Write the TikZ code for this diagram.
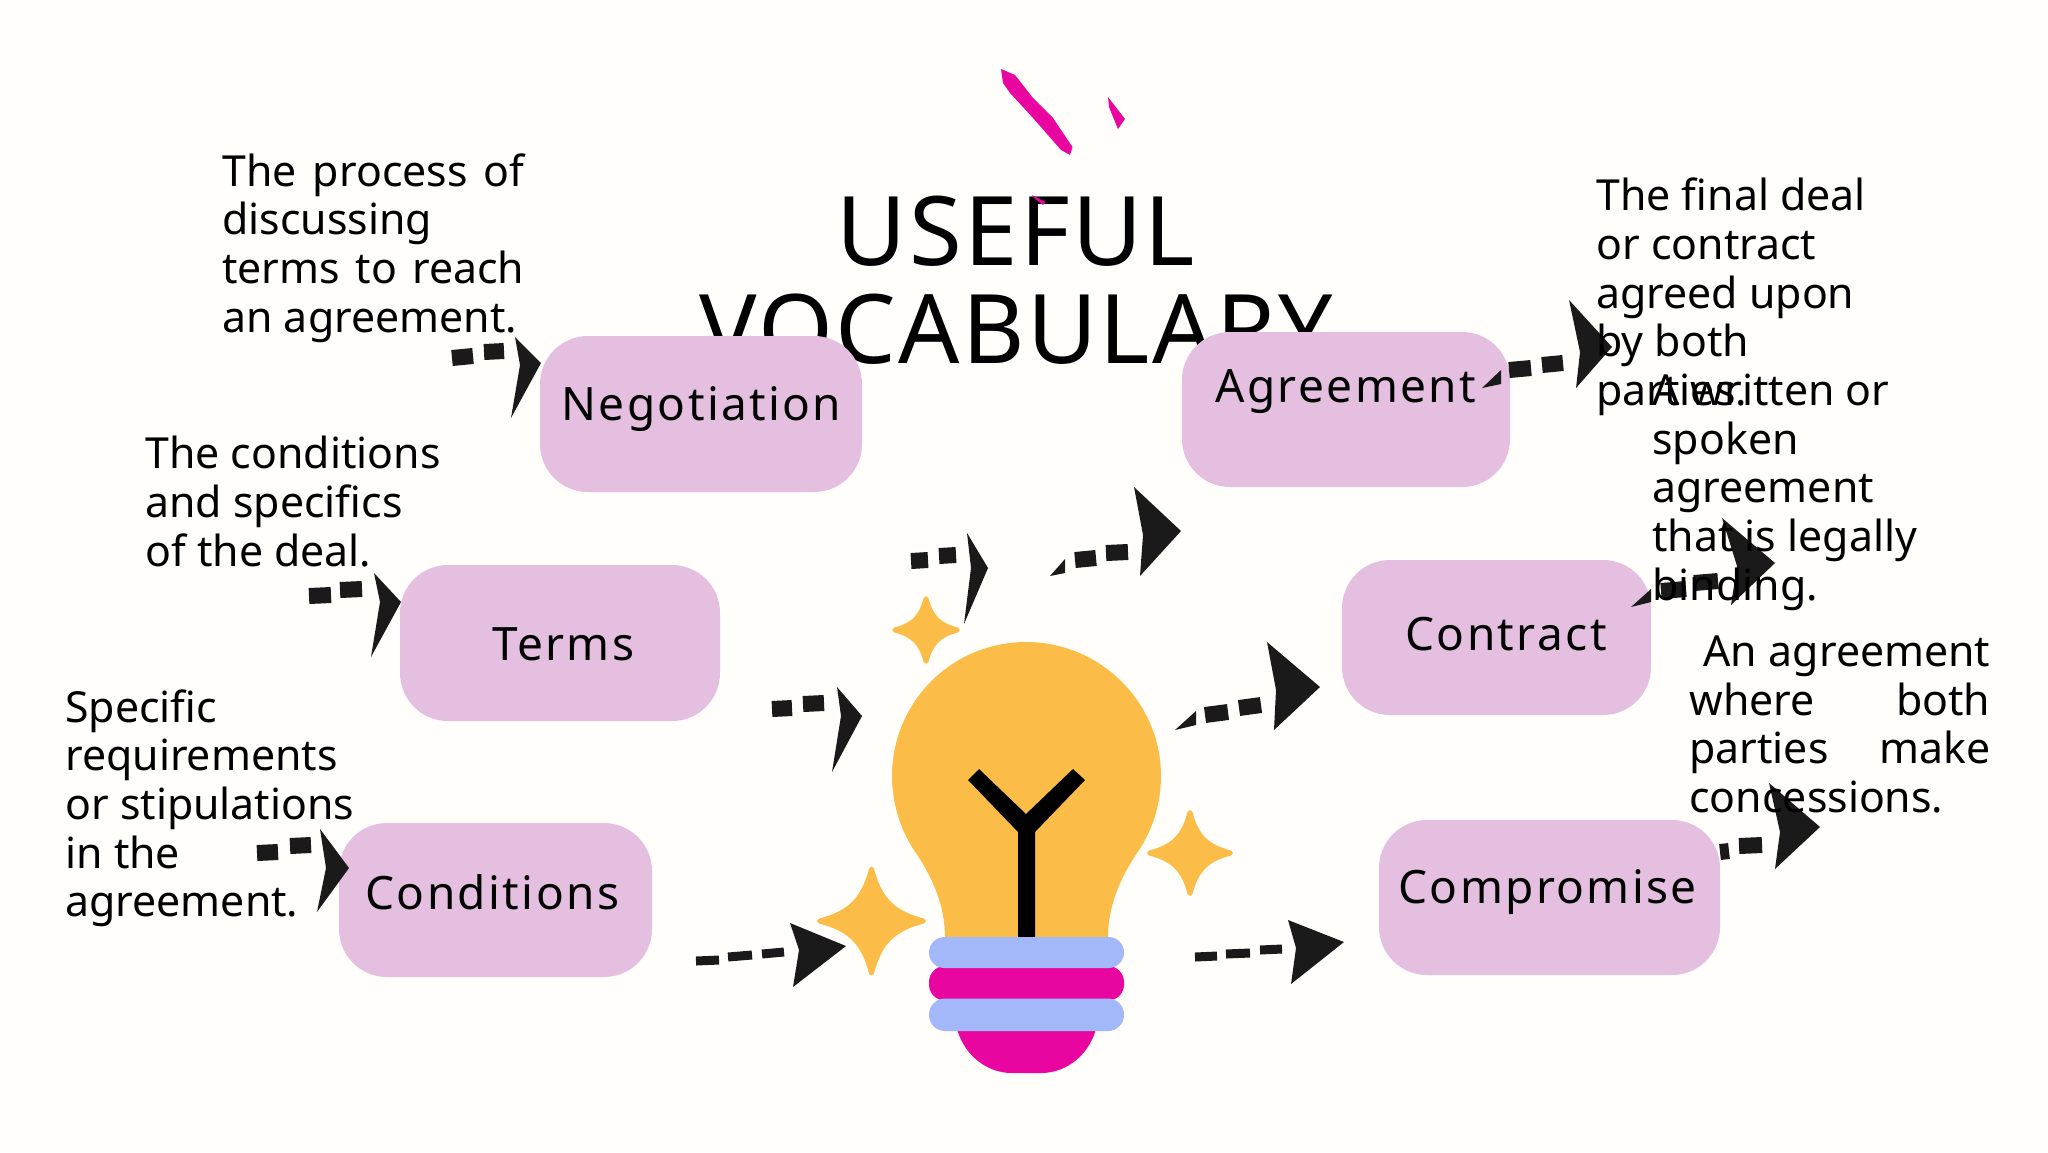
\documentclass[tikz,border=0pt]{standalone}
\usepackage{fontspec}
\setmainfont{Noto Sans}
\definecolor{bg}{HTML}{FFFEFB}
\definecolor{boxc}{HTML}{E4BFE0}
\definecolor{bulb}{HTML}{FBBD47}
\definecolor{pinkc}{HTML}{E9059F}
\definecolor{bluec}{HTML}{A3B8F8}
\definecolor{inkc}{HTML}{1A1A1A}
\newcommand{\firstline}{\rule{0pt}{16pt}}
\newcommand{\jl}[1]{\makebox[#1][s]}
\newcommand{\headshape}[4]{\fill[inkc] (#1) -- (#2) -- (#3) -- (#4) -- cycle;}
\newcommand{\sparkle}[3]{%
  \fill[bulb,draw=bulb,line width=2.5pt,line join=round,shift={(#1,#2)},scale=#3]
    (0,-.92) .. controls (.14,-.38) and (.38,-.14) .. (.92,0)
    .. controls (.38,.14) and (.14,.38) .. (0,.92)
    .. controls (-.14,.38) and (-.38,.14) .. (-.92,0)
    .. controls (-.38,-.14) and (-.14,-.38) .. (0,-.92) -- cycle;}
\tikzset{
  x=0.5pt,y=-0.5pt,
  termbox/.style={fill=boxc,rounded corners=24pt},
  label/.style={anchor=base west,inner sep=0pt,font=\fontsize{23}{27}\selectfont\addfontfeature{LetterSpace=5.2}},
  body/.style={anchor=north west,inner sep=0pt,align=left,font=\fontsize{21.4}{24.35}\selectfont},
  dashpart/.style={draw=inkc,line width=8pt},
  thin dash/.style={draw=inkc,line width=4.5pt},
}
\begin{document}
\begin{tikzpicture}
\useasboundingbox (0,0) rectangle (2048,1152);
\fill[bg] (0,0) rectangle (2048,1152);

% brush marks
\fill[pinkc] (1001,69) -- (1015,75) -- (1033,98) -- (1053,118) -- (1072.5,147) -- (1070,155) -- (1061,150) -- (1033,118) -- (1010,93) -- (1003,83) -- cycle;
\fill[pinkc] (1108,97) -- (1125,119) -- (1118,129) -- (1113,117) -- (1109,107) -- cycle;

% title
\node[anchor=north,inner sep=0pt,align=center,font=\fontsize{48}{49}\selectfont\addfontfeature{LetterSpace=2.5}] (title) at (1016,193)
  {\rule{0pt}{36pt}USEFUL\\VOCABULARY};
\fill[pinkc] (1032,195) -- (1045.5,202) -- (1043,205) -- (1034,198) -- cycle;

% term boxes
\draw[termbox,draw=none] (540,336) rectangle (862,492);
\draw[termbox,draw=none] (1182,332) rectangle (1510,487);
\draw[termbox,draw=none] (400,565) rectangle (720,721);
\draw[termbox,draw=none] (1342,560) rectangle (1651,715);
\draw[termbox,draw=none] (339,823) rectangle (652,977);
\draw[termbox,draw=none] (1379,820) rectangle (1720,975);

\node[label] (negotiation) at (561,420) {Negotiation};
\node[label] (agreement) at (1215,402) {Agreement};
\node[label] (terms) at (492,660) {Terms};
\node[label] (contract) at (1405,650) {Contract};
\node[label] (conditions) at (365,909) {Conditions};
\node[label] (compromise) at (1398,903) {Compromise};

% arrows
\draw[dashpart] (452,358) -- (473,356);
\draw[dashpart] (484,352) -- (504,351);
\headshape{515,337}{541,363}{511,418}{520,365}

\draw[dashpart] (309,596) -- (331,595);
\draw[dashpart] (340,590) -- (362,589);
\headshape{374,573}{401,602}{371,657}{380,602}

\draw[dashpart] (257,853) -- (278,852);
\draw[dashpart] (290,846) -- (311,845);
\headshape{320,829}{349,868}{317,912}{326,868}

\draw[dashpart] (772,709) -- (792,708);
\draw[dashpart] (803,704) -- (824,703);
\headshape{837,687}{862,716}{832,772}{841,716}

\draw[dashpart] (911,561) -- (928,560);
\draw[dashpart] (939,556) -- (956,555);
\headshape{967,533}{988,568}{964,624}{971,568}

\fill[inkc] (1050,576) -- (1065,559) -- (1065,573) -- cycle;
\draw[dashpart] (1075,560) -- (1096,558);
\draw[dashpart] (1106,553) -- (1128,552);
\headshape{1134,487}{1181,531}{1140,576}{1143,535}

\fill[inkc] (1175,730) -- (1196,711) -- (1196,725) -- cycle;
\draw[dashpart] (1205,715) -- (1228,712);
\draw[dashpart] (1239,708) -- (1261,705);
\headshape{1267,642}{1320,687}{1274,730}{1276,690}

\draw[thin dash] (696,961) -- (719,960);
\draw[thin dash] (728,957) -- (752,955);
\draw[thin dash] (762,954) -- (784,952);
\headshape{790,923}{846,946}{793,987}{799,950}

\draw[thin dash] (1195,957) -- (1217,956);
\draw[thin dash] (1226,954) -- (1250,953);
\draw[thin dash] (1260,950) -- (1282,949);
\headshape{1288,920}{1344,942}{1291,984}{1296,948}

\fill[inkc] (1482,388) -- (1501,370) -- (1501,384) -- cycle;
\draw[dashpart] (1509,370) -- (1531,368);
\draw[dashpart] (1542,365) -- (1563,363);
\headshape{1569,300}{1612,347}{1576,388}{1580,352}

\fill[inkc] (1631,607) -- (1651,589) -- (1651,602) -- cycle;
\draw[dashpart] (1661,591) -- (1686,589);
\draw[dashpart] (1694,583) -- (1718,581);
\headshape{1722,518}{1775,563}{1731,605}{1737,566}

\draw[dashpart] (1720,852) -- (1729,851);
\draw[dashpart] (1739,846) -- (1762,845);
\headshape{1769,783}{1820,827}{1775,869}{1780,832}

% body texts
\node[body] (tnego) at (222,153) {\firstline\jl{151pt}{The process of}\\discussing\\\jl{151pt}{terms to reach}\\an agreement.};
\node[body] (tterms) at (145,436) {\firstline The conditions\\and specifics\\of the deal.};
\node[body] (tcond) at (65,689) {\firstline Specific\\requirements\\or stipulations\\in the\\agreement.};
\node[body] (tagree) at (1596,177.5) {\firstline The final deal\\or contract\\agreed upon\\by both\\parties.};
\node[body] (tcontr) at (1652,373) {\firstline A written or\\spoken\\agreement\\that is legally\\binding.};
\node[body] (tcomp) at (1689,634) {\firstline\hspace{7pt}\jl{143.5pt}{An agreement}\\\jl{150.5pt}{where both}\\\jl{150.5pt}{parties make}\\concessions.};

% bulb
\fill[bulb] (945,937) .. controls (945,905) and (932,877) .. (916,853)
  .. controls (901,832) and (892,804) .. (892,776)
  .. controls (892,702) and (952,642) .. (1026,642)
  .. controls (1100,642) and (1161,702) .. (1161,776)
  .. controls (1161,804) and (1152,832) .. (1137,853)
  .. controls (1121,877) and (1108,905) .. (1108,937) -- cycle;
\fill[black] (979,769) -- (1026,814) -- (1073,769) -- (1085,780) -- (1035,832) -- (1035,937) -- (1018,937) -- (1018,832) -- (968,780) -- cycle;
\fill[pinkc] (956,1025) .. controls (962,1053) and (985,1073) .. (1012,1073) -- (1041,1073) .. controls (1068,1073) and (1091,1053) .. (1097,1025) -- cycle;
\fill[pinkc,rounded corners=8pt] (929,966) rectangle (1124,1000.5);
\fill[bluec,rounded corners=7.7pt] (929,937) rectangle (1124,968);
\fill[bluec,rounded corners=8pt] (929,998.5) rectangle (1124,1031);

\sparkle{926}{630}{34}
\sparkle{1190}{853}{44}
\sparkle{871.5}{921}{56.5}
\end{tikzpicture}
\end{document}
